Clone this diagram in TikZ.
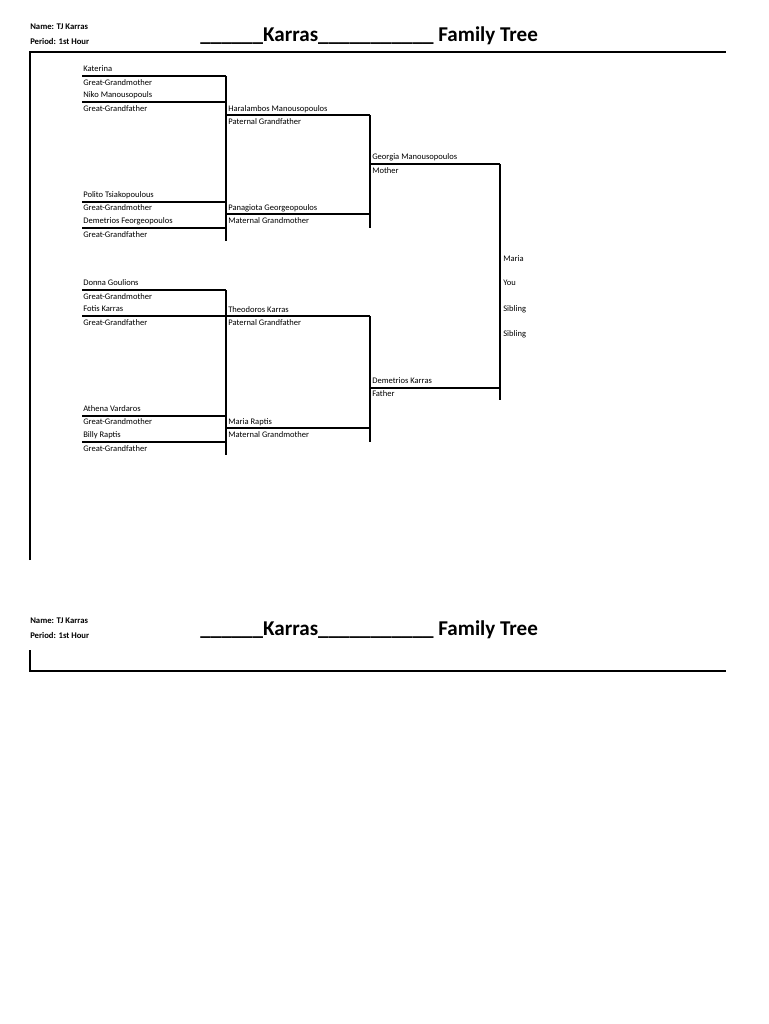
\documentclass[tikz,border=0pt]{standalone}
\usepackage{fontspec}
\setmainfont{Carlito}
\begin{document}
\begin{tikzpicture}[x=0.75pt,y=-0.75pt,
  lbl/.style={anchor=west, inner sep=0pt, font=\fontsize{6.4}{7}\selectfont},
  bar/.style={line width=1.6pt},
  thin/.style={line width=0.8pt},
  hdr/.style={anchor=west, inner sep=0pt, font=\fontsize{6.5}{7}\selectfont\bfseries},
  ttl/.style={anchor=west, inner sep=0pt, font=\fontsize{15.8}{17}\selectfont\bfseries}]
\useasboundingbox (0,0) rectangle (768,1024);
% headers
\foreach \y in {0,594} {
  \node[hdr] at (30,27+\y) {Name: TJ Karras};
  \node[hdr] at (30,41+\y) {Period: 1st Hour};
  \node[ttl] at (200,36+\y) {\_\_\_\_\_\_Karras\_\_\_\_\_\_\_\_\_\_\_ Family Tree};
}
% frame
\draw[thin] (30,560) -- (30,52) -- (726,52);
\draw[thin] (30,650) -- (30,671) -- (726,671);
\draw[bar] (677,671) -- (726,671);
% two halves of the tree
\foreach \o/\gy/\a/\b/\c/\d/\e/\f in {
  0/115/Katerina/Niko Manousopouls/Polito Tsiakopoulous/Demetrios Feorgeopoulos/Haralambos Manousopoulos/Panagiota Georgeopoulos,
  214/102/Donna Goulions/Fotis Karras/Athena Vardaros/Billy Raptis/Theodoros Karras/Maria Raptis} {
  \begin{scope}[yshift=-\o*0.75pt]
    \node[lbl] at (83,69) {\a};
    \draw[bar] (82,76) -- (226,76);
    \node[lbl] at (83,83) {Great-Grandmother};
    \node[lbl] at (83,95) {\b};
    \draw[bar] (82,102) -- (226,102);
    \node[lbl] at (83,109) {Great-Grandfather};
    \node[lbl] at (83,195) {\c};
    \draw[bar] (82,202) -- (226,202);
    \node[lbl] at (83,208) {Great-Grandmother};
    \node[lbl] at (83,221) {\d};
    \draw[bar] (82,228) -- (226,228);
    \node[lbl] at (83,235) {Great-Grandfather};
    \draw[thin] (226,76) -- (226,241);
    \node[lbl] at (228,\gy-6) {\e};
    \draw[bar] (226,\gy) -- (370,\gy);
    \node[lbl] at (228,\gy+7) {Paternal Grandfather};
    \node[lbl] at (228,208) {\f};
    \draw[bar] (226,214) -- (370,214);
    \node[lbl] at (228,221) {Maternal Grandmother};
    \draw[thin] (370,\gy) -- (370,228);
  \end{scope}
}
\node[lbl] at (372,157) {Georgia Manousopoulos};
\draw[bar] (370,164) -- (500,164);
\node[lbl] at (372,171) {Mother};
\node[lbl] at (372,381) {Demetrios Karras};
\draw[thin] (370,388) -- (500,388);
\node[lbl] at (372,394) {Father};
\draw[bar] (500,164) -- (500,400);
\node[lbl] at (503,259) {Maria};
\node[lbl] at (503,283) {You};
\node[lbl] at (503,309) {Sibling};
\node[lbl] at (503,334) {Sibling};
\end{tikzpicture}
\end{document}
